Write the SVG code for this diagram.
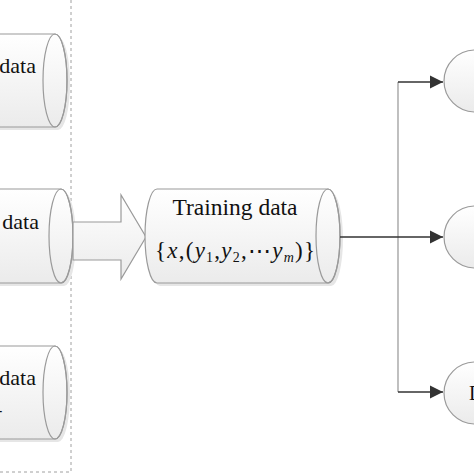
<svg xmlns="http://www.w3.org/2000/svg" width="474" height="474" viewBox="0 0 474 474">
<defs>
<linearGradient id="g" x1="0" y1="0" x2="0" y2="1">
<stop offset="0" stop-color="#ffffff"/>
<stop offset="1" stop-color="#ebebeb"/>
</linearGradient>
<marker id="ah" markerWidth="14" markerHeight="14" refX="13" refY="7" orient="auto" markerUnits="userSpaceOnUse">
<path d="M0,0.5 L13,7 L0,13.5 Z" fill="#333"/>
</marker>
<style>
.shape{fill:url(#g);stroke:#9a9a9a;stroke-width:1.2}
.shadow{fill:#e6e6e6;stroke:none}
.end{fill:none;stroke:#9a9a9a;stroke-width:1.2}
.lbl{font-family:"Liberation Serif","Times New Roman",serif;fill:#111}
.conn{stroke:#333;stroke-width:1.6;fill:none}
.trunk{stroke:#b0b0b0;stroke-width:1.6;fill:none}
</style>
</defs>
<rect width="474" height="474" fill="#fff"/>
<path d="M71,0 L71,472 L0,472" fill="none" stroke="#a0a0a0" stroke-width="1" stroke-dasharray="3,3"/>
<g id="data1">
<path class="shadow" d="M-5,37 L58,37 A12,46.5 0 0 1 58,130 L-5,130 Z"/>
<path class="shape" d="M-5,34 L55,34 A12,46.5 0 0 1 55,127 L-5,127 Z"/>
<ellipse class="end" cx="55" cy="80.5" rx="12" ry="46.5"/>
<text class="lbl" x="36" y="73" font-size="22" text-anchor="end">data</text>
</g>
<g id="data2">
<path class="shadow" d="M-5,192 L64,192 A12,47 0 0 1 64,286 L-5,286 Z"/>
<path class="shape" d="M-5,189 L61,189 A12,47 0 0 1 61,283 L-5,283 Z"/>
<ellipse class="end" cx="61" cy="236" rx="12" ry="47"/>
<text class="lbl" x="39" y="229" font-size="22" text-anchor="end">data</text>
</g>
<g id="data3">
<path class="shadow" d="M-5,349 L58,349 A12,46.5 0 0 1 58,442 L-5,442 Z"/>
<path class="shape" d="M-5,346 L55,346 A12,46.5 0 0 1 55,439 L-5,439 Z"/>
<ellipse class="end" cx="55" cy="392.5" rx="12" ry="46.5"/>
<text class="lbl" x="36" y="385" font-size="22" text-anchor="end">data</text>
<text class="lbl" x="-3" y="416" font-size="16">-</text>
</g>
<g id="bigarrow">
<polygon class="shape" points="73,222 121,222 121,195 146,237 121,279 121,260 73,260"/>
</g>
<g id="training">
<path class="shadow" d="M160,192 L331,192 A12,47 0 0 1 331,286 L160,286 A12,47 0 0 1 160,192 Z"/>
<path class="shape" d="M157,189 L328,189 A12,47 0 0 1 328,283 L157,283 A12,47 0 0 1 157,189 Z"/>
<ellipse class="end" cx="328" cy="236" rx="12" ry="47"/>
<text class="lbl" x="235" y="215" font-size="23.5" text-anchor="middle">Training data</text>
<text class="lbl" x="155" y="258" font-size="23" textLength="160" lengthAdjust="spacing">{<tspan font-style="italic">x</tspan>,(<tspan font-style="italic">y</tspan><tspan font-size="14" dy="4">1</tspan><tspan dy="-4">,</tspan><tspan font-style="italic">y</tspan><tspan font-size="14" dy="4">2</tspan><tspan dy="-4">,⋯</tspan><tspan font-style="italic">y</tspan><tspan font-size="14" font-style="italic" dy="4">m</tspan><tspan dy="-4">)}</tspan></text>
</g>
<g id="connectors">
<path class="trunk" d="M398,82 L398,392"/>
<path class="conn" d="M340,237 L443,237" marker-end="url(#ah)"/>
<path class="conn" d="M398,82 L443,82" marker-end="url(#ah)"/>
<path class="conn" d="M398,392 L443,392" marker-end="url(#ah)"/>
</g>
<g id="out1">
<circle class="shape" cx="475" cy="81" r="31"/>
</g>
<g id="out2">
<circle class="shape" cx="475" cy="237" r="31"/>
</g>
<g id="out3">
<circle class="shape" cx="475" cy="393" r="31"/>
<text class="lbl" x="469" y="400" font-size="20">D</text>
</g>
</svg>
